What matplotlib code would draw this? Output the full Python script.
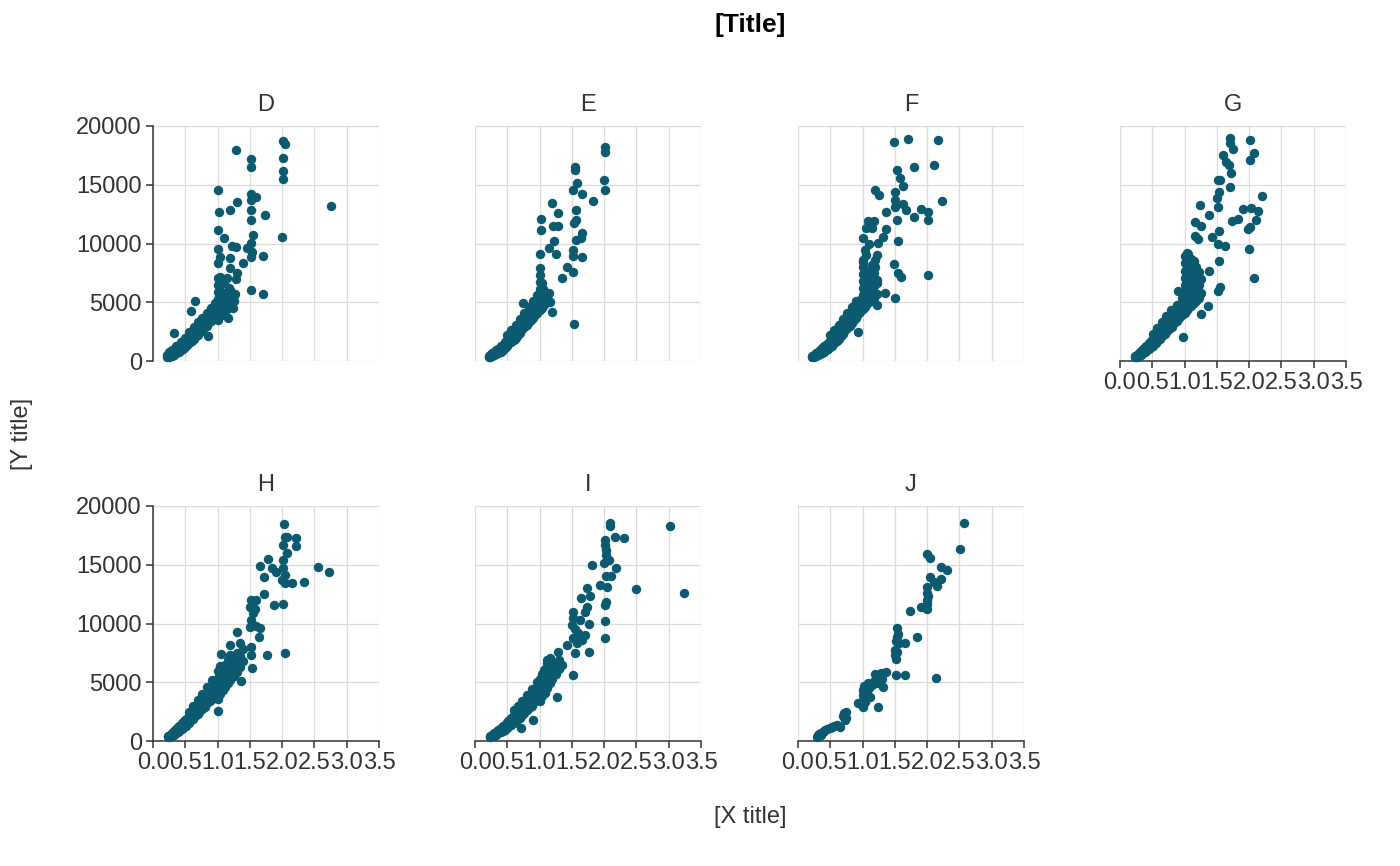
import matplotlib
matplotlib.use("Agg")
import matplotlib.pyplot as plt

plt.rcParams['font.family'] = ['Liberation Sans', 'DejaVu Sans']

title = "[Title]"
x_title = "[X title]"
y_title = "[Y title]"
facets = ["D", "E", "F", "G", "H", "I", "J"]
x_ticks = [0.0, 0.5, 1.0, 1.5, 2.0, 2.5, 3.0, 3.5]
x_tick_labels = ["0.0", "0.5", "1.0", "1.5", "2.0", "2.5", "3.0", "3.5"]
y_ticks = [0, 5000, 10000, 15000, 20000]
y_tick_labels = ["0", "5000", "10000", "15000", "20000"]

# ---- D ----
D_carat = [1.29, 1.52, 1.51, 2.01, 2.05, 2.02, 2.02, 2.02, 2.00, 2.76, 1.00, 1.02, 1.30, 1.19, 1.52, 1.59, 1.51, 1.52, 1.52, 1.73,
           1.01, 1.10, 1.22, 1.29, 1.00, 1.55, 1.52, 1.46, 1.53, 1.52, 1.04, 1.20, 1.71, 1.01, 1.40, 1.20, 1.30, 1.04, 1.15, 1.29,
           1.52, 1.71, 1.20, 1.27, 1.24, 1.16, 0.65, 0.59, 0.85, 0.33,
           0.22, 0.22,
           0.25, 0.25, 0.25,
           0.28, 0.28,
           0.30, 0.30, 0.30,
           0.33, 0.33,
           0.36, 0.36, 0.36,
           0.40, 0.40,
           0.43, 0.43, 0.43,
           0.46, 0.46,
           0.50, 0.50, 0.50,
           0.53, 0.53,
           0.56, 0.56, 0.56,
           0.60, 0.60,
           0.63, 0.63, 0.63,
           0.66, 0.66,
           0.70, 0.70, 0.70,
           0.73, 0.73,
           0.76, 0.76, 0.76,
           0.80, 0.80,
           0.83, 0.83, 0.83,
           0.86, 0.86,
           0.90, 0.90, 0.90,
           0.93, 0.93,
           0.96, 0.96, 0.96,
           1.00, 1.00, 1.00, 1.00, 1.00, 1.00, 1.00,
           1.03, 1.03, 1.03, 1.03,
           1.06, 1.06, 1.06,
           1.10, 1.10, 1.10, 1.10,
           1.14, 1.14,
           1.18, 1.18, 1.18,
           1.22, 1.22,
           1.26]
D_price = [18000, 17160, 16480, 18750, 18440, 17250, 16170, 15460, 10580, 13190, 14580, 12650, 13530, 12850, 14200, 13930, 13700, 12850, 12000, 12400,
           11150, 10500, 9790, 9670, 9530, 10720, 10010, 9590, 9300, 8880, 8880, 8740, 8960, 8310, 8310, 7890, 7520, 7180, 7035, 6950,
           6040, 5670, 6040, 5670, 4480, 3630, 5100, 4250, 2150, 2350,
           350, 500,
           300, 550, 750,
           400, 650,
           450, 700, 950,
           550, 850,
           650, 950, 1250,
           800, 1150,
           900, 1300, 1600,
           1050, 1500,
           1200, 1600, 2000,
           1400, 1900,
           1500, 2000, 2500,
           1700, 2300,
           1900, 2500, 2900,
           2100, 2700,
           2200, 2800, 3300,
           2500, 3100,
           2600, 3200, 3700,
           2900, 3500,
           3000, 3700, 4100,
           3300, 3900,
           3400, 4000, 4500,
           3600, 4300,
           3800, 4500, 4900,
           3500, 4100, 4700, 5300, 5900, 6500, 7100,
           3800, 4500, 5200, 6000,
           4000, 4800, 5500,
           4200, 5000, 5800, 6600,
           4400, 5200,
           4600, 5400, 6200,
           5000, 5600,
           5100]

# ---- E ----
E_carat = [2.01, 2.01, 2.00, 2.01, 1.55, 1.55, 1.58, 1.51, 1.65, 1.82, 1.20, 1.28, 1.02, 1.02, 1.21, 1.29, 1.56, 1.54, 1.57, 1.66,
           1.64, 1.56, 1.22, 1.15, 1.01, 1.25, 1.51, 1.51, 1.66, 1.42, 1.52, 1.34, 1.53, 1.19, 1.16, 0.74,
           0.21, 0.21,
           0.24, 0.24,
           0.27, 0.27,
           0.30, 0.30,
           0.33, 0.33,
           0.36, 0.36,
           0.40, 0.40,
           0.43, 0.43,
           0.46, 0.46,
           0.50, 0.50, 0.50,
           0.53, 0.53,
           0.56, 0.56, 0.56,
           0.60, 0.60,
           0.63, 0.63, 0.63,
           0.66, 0.66,
           0.70, 0.70, 0.70,
           0.73, 0.73,
           0.76, 0.76, 0.76,
           0.80, 0.80,
           0.83, 0.83, 0.83,
           0.86, 0.86,
           0.90, 0.90, 0.90,
           0.93, 0.93,
           0.96, 0.96, 0.96,
           1.00, 1.00, 1.00, 1.00, 1.00, 1.00, 1.00,
           1.03, 1.03, 1.03, 1.03,
           1.06, 1.06, 1.06,
           1.10, 1.10,
           1.14, 1.14]
E_price = [18240, 17820, 15400, 14550, 16540, 16250, 15120, 14550, 14180, 13650, 13420, 12570, 12110, 11150, 11490, 11490, 12850, 11720, 12000, 10870,
           10440, 10300, 10210, 9590, 9110, 9110, 9450, 8960, 8880, 8030, 7550, 7040, 3120, 4200, 5050, 4910,
           300, 450,
           350, 550,
           400, 650,
           500, 750,
           600, 900,
           700, 1050,
           800, 1250,
           950, 1400,
           1100, 1600,
           1250, 1800, 2200,
           1500, 2000,
           1600, 2200, 2600,
           1800, 2500,
           2000, 2700, 3100,
           2200, 2900,
           2400, 3100, 3600,
           2700, 3400,
           2900, 3600, 4100,
           3100, 3900,
           3300, 4100, 4600,
           3500, 4300,
           3700, 4500, 5100,
           3900, 4800,
           4100, 5000, 5600,
           4300, 4900, 5500, 6100, 6700, 7300, 7900,
           4500, 5200, 5900, 6600,
           4700, 5400, 6100,
           4900, 5600,
           5100, 5800]

# ---- F ----
F_carat = [1.49, 1.71, 2.17, 1.53, 1.80, 2.10, 1.58, 1.62, 1.19, 1.25, 1.50, 1.50, 1.63, 2.23, 1.50, 1.68, 1.36, 1.90, 2.01, 1.80,
           2.01, 1.53, 1.09, 1.17, 1.05, 1.14, 1.37, 1.32, 1.55, 1.00, 1.24, 1.04, 1.22, 1.19, 1.01, 1.19, 1.49, 1.55, 1.60, 2.01,
           1.35, 1.50, 1.22, 1.22,
           0.22, 0.22,
           0.25, 0.25,
           0.28, 0.28,
           0.31, 0.31,
           0.34, 0.34,
           0.37, 0.37,
           0.40, 0.40,
           0.43, 0.43,
           0.46, 0.46,
           0.50, 0.50, 0.50,
           0.53, 0.53,
           0.56, 0.56, 0.56,
           0.60, 0.60,
           0.63, 0.63, 0.63,
           0.66, 0.66,
           0.70, 0.70, 0.70,
           0.73, 0.73,
           0.76, 0.76, 0.76,
           0.80, 0.80,
           0.83, 0.83, 0.83,
           0.86, 0.86,
           0.90, 0.90, 0.90,
           0.93, 0.93, 0.93,
           0.96, 0.96,
           1.00, 1.00, 1.00, 1.00, 1.00, 1.00, 1.00, 1.00,
           1.03, 1.03, 1.03, 1.03, 1.03,
           1.06, 1.06, 1.06, 1.06, 1.06,
           1.10, 1.10, 1.10, 1.10, 1.10,
           1.14, 1.14, 1.14, 1.14,
           1.18, 1.18, 1.18,
           1.22, 1.22]
F_price = [18670, 18860, 18810, 16250, 16540, 16680, 15550, 14890, 14550, 14130, 14410, 13700, 13360, 13620, 13130, 12850, 12710, 12910, 12710, 12280,
           12000, 12000, 11920, 11920, 11290, 11290, 11230, 10580, 10240, 10440, 10010, 9450, 9020, 8600, 8450, 8030, 8250, 7460, 7180, 7320,
           5820, 5330, 6670, 4770,
           300, 450,
           350, 550,
           400, 650,
           500, 800,
           600, 950,
           700, 1100,
           800, 1250,
           900, 1400,
           1000, 1550,
           1150, 1700, 2200,
           1300, 1900,
           1500, 2100, 2600,
           1700, 2400,
           1900, 2600, 3100,
           2100, 2900,
           2300, 3100, 3600,
           2600, 3400,
           2800, 3600, 4100,
           3000, 3900,
           3200, 4100, 4600,
           3500, 4400,
           3700, 4600, 5100,
           2500, 4000, 4900,
           4200, 5200,
           4400, 5000, 5600, 6200, 6800, 7400, 8000, 8600,
           4600, 5300, 6000, 6700, 7400,
           4800, 5500, 6300, 7100, 9000,
           5000, 5800, 6600, 7600, 10000,
           5200, 6100, 7000, 8200,
           5400, 6400, 7500,
           5700, 6900]

# ---- G ----
G_carat = [1.71, 1.71, 1.75, 2.01, 2.01, 2.08, 1.60, 1.64, 1.69, 1.72, 1.51, 1.55, 1.70, 1.53, 1.50, 2.20, 1.51, 1.24, 1.38, 1.91,
           2.03, 2.14, 2.11, 1.73, 1.82, 2.01, 1.99, 1.16, 1.25, 1.16, 1.21, 1.53, 1.43, 1.51, 1.63, 2.00, 1.53, 1.38, 1.55, 1.51,
           2.07, 1.36, 1.25, 0.90, 0.79, 0.98,
           0.23, 0.23,
           0.26, 0.26,
           0.29, 0.29,
           0.32, 0.32,
           0.35, 0.35,
           0.38, 0.38,
           0.41, 0.41,
           0.45, 0.45,
           0.48, 0.48,
           0.51, 0.51, 0.51,
           0.55, 0.55,
           0.58, 0.58, 0.58,
           0.62, 0.62,
           0.65, 0.65, 0.65,
           0.69, 0.69,
           0.72, 0.72, 0.72,
           0.76, 0.76,
           0.80, 0.80, 0.80,
           0.84, 0.84,
           0.88, 0.88, 0.88,
           0.92, 0.92,
           0.96, 0.96, 0.96,
           1.00, 1.00, 1.00, 1.00, 1.00, 1.00, 1.00, 1.00, 1.00,
           1.03, 1.03, 1.03, 1.03, 1.03, 1.03, 1.03, 1.03,
           1.06, 1.06, 1.06, 1.06, 1.06, 1.06, 1.06,
           1.10, 1.10, 1.10, 1.10, 1.10, 1.10,
           1.14, 1.14, 1.14, 1.14, 1.14,
           1.18, 1.18, 1.18, 1.18,
           1.22, 1.22, 1.22,
           1.26, 1.26]
G_price = [18950, 18520, 18010, 18810, 17110, 17680, 17530, 16960, 16680, 15970, 15400, 15400, 14840, 14410, 13840, 14040, 13130, 13250, 12400, 12910,
           13050, 12790, 12000, 11940, 12060, 11430, 11200, 11800, 11520, 10640, 10410, 11090, 10520, 9960, 9790, 9500, 8540, 7690, 6330, 5990,
           7090, 4680, 4000, 5960, 4340, 2070,
           300, 450,
           350, 550,
           450, 700,
           550, 850,
           650, 1000,
           750, 1150,
           850, 1300,
           1000, 1500,
           1150, 1700,
           1300, 1900, 2300,
           1500, 2100,
           1700, 2400, 2800,
           1900, 2600,
           2100, 2900, 3300,
           2300, 3100,
           2500, 3300, 3800,
           2700, 3600,
           2900, 3800, 4300,
           3200, 4100,
           3400, 4300, 4800,
           3700, 4600,
           3900, 4900, 5400,
           4100, 4700, 5300, 5900, 6500, 7100, 7700, 8300, 8900,
           4300, 5000, 5700, 6400, 7100, 7800, 8500, 9200,
           4500, 5200, 6000, 6800, 7600, 8400, 9100,
           4700, 5500, 6300, 7100, 7900, 8700,
           4900, 5800, 6700, 7600, 8500,
           5100, 6000, 7000, 8000,
           5400, 6500, 7600,
           5800, 7000]

# ---- H ----
H_carat = [2.03, 2.04, 2.08, 2.21, 2.02, 2.21, 2.08, 2.02, 2.02, 2.05, 2.00, 2.05, 2.15, 2.34, 2.56, 2.72, 1.66, 1.78, 1.85, 1.90,
           1.72, 1.72, 1.87, 2.02, 1.76, 2.04, 1.51, 1.59, 1.50, 1.55, 1.52, 1.60, 1.50, 1.58, 1.66, 1.64, 1.30, 1.20, 1.35, 1.51,
           1.51, 1.53, 1.05, 1.37, 1.01,
           0.23, 0.23,
           0.26, 0.26,
           0.29, 0.29,
           0.32, 0.32,
           0.35, 0.35,
           0.38, 0.38,
           0.41, 0.41,
           0.45, 0.45,
           0.48, 0.48,
           0.51, 0.51,
           0.55, 0.55, 0.55,
           0.58, 0.58,
           0.62, 0.62, 0.62,
           0.65, 0.65,
           0.69, 0.69, 0.69,
           0.72, 0.72,
           0.76, 0.76, 0.76,
           0.80, 0.80,
           0.84, 0.84, 0.84,
           0.88, 0.88,
           0.92, 0.92, 0.92,
           0.96, 0.96,
           1.00, 1.00, 1.00, 1.00, 1.00,
           1.04, 1.04, 1.04, 1.04, 1.04,
           1.08, 1.08, 1.08, 1.08,
           1.12, 1.12, 1.12, 1.12,
           1.16, 1.16, 1.16, 1.16,
           1.20, 1.20, 1.20, 1.20,
           1.25, 1.25, 1.25,
           1.30, 1.30, 1.30,
           1.35, 1.35,
           1.40, 1.40]
H_price = [18470, 17390, 17390, 17300, 16680, 16600, 16030, 15400, 14700, 14130, 13700, 13420, 13420, 13500, 14840, 14410, 14890, 15460, 14700, 14410,
           13990, 12510, 11550, 11660, 7320, 7460, 12000, 12000, 11400, 10900, 10300, 9800, 9700, 11200, 9650, 8880, 9300, 8170, 8310, 8030,
           7320, 6180, 7380, 5110, 2550,
           300, 450,
           350, 550,
           450, 700,
           550, 850,
           650, 1000,
           750, 1150,
           850, 1300,
           1000, 1500,
           1150, 1700,
           1300, 1900,
           1500, 2100, 2500,
           1700, 2300,
           1900, 2600, 3000,
           2100, 2800,
           2300, 3100, 3500,
           2500, 3300,
           2700, 3500, 4000,
           2900, 3800,
           3200, 4000, 4600,
           3400, 4300,
           3600, 4600, 5200,
           3900, 4900,
           3600, 4200, 4800, 5400, 6000,
           4000, 4600, 5200, 5800, 6400,
           4300, 4900, 5500, 6100,
           4600, 5200, 5800, 6500,
           4900, 5500, 6200, 6900,
           5200, 5900, 6600, 7300,
           5500, 6300, 7000,
           5900, 6700, 7500,
           6300, 7200,
           6800, 7800]

# ---- I ----
I_carat = [2.09, 2.09, 3.02, 2.17, 2.31, 2.01, 2.01, 2.03, 2.03, 2.08, 2.00, 2.19, 1.81, 2.03, 2.10, 1.94, 2.04, 2.49, 3.23, 1.74,
           1.78, 1.64, 2.03, 2.02, 1.73, 1.70, 1.51, 1.51, 1.63, 1.77, 2.01, 2.01, 1.50, 1.55, 1.60, 1.52, 1.65, 1.58, 1.70, 1.76,
           1.55, 1.42, 1.29, 1.16, 1.11, 1.51, 1.07, 1.27, 0.90, 0.72,
           0.24, 0.24,
           0.27, 0.27,
           0.30, 0.30,
           0.33, 0.33,
           0.36, 0.36,
           0.40, 0.40,
           0.43, 0.43,
           0.46, 0.46,
           0.50, 0.50,
           0.53, 0.53,
           0.56, 0.56,
           0.60, 0.60, 0.60,
           0.63, 0.63,
           0.66, 0.66, 0.66,
           0.70, 0.70,
           0.73, 0.73, 0.73,
           0.76, 0.76,
           0.80, 0.80, 0.80,
           0.84, 0.84,
           0.88, 0.88, 0.88,
           0.92, 0.92,
           0.96, 0.96, 0.96,
           1.00, 1.00, 1.00, 1.00,
           1.04, 1.04, 1.04, 1.04,
           1.08, 1.08, 1.08, 1.08,
           1.12, 1.12, 1.12, 1.12,
           1.16, 1.16, 1.16,
           1.20, 1.20, 1.20,
           1.25, 1.25,
           1.30, 1.30,
           1.35]
I_price = [18520, 18330, 18300, 17390, 17250, 17110, 16680, 16250, 15830, 15400, 15180, 14750, 14980, 14040, 14040, 13280, 13080, 12910, 12570, 13050,
           12340, 12200, 11860, 11570, 11380, 11000, 11000, 10440, 10300, 9930, 10210, 8790, 9900, 9500, 9200, 8800, 8600, 8300, 9000, 7600,
           7460, 8170, 7550, 7040, 6890, 5620, 6040, 3720, 1790, 1130,
           300, 450,
           400, 550,
           450, 700,
           550, 800,
           650, 950,
           750, 1100,
           850, 1250,
           950, 1400,
           1100, 1600,
           1250, 1800,
           1400, 2000,
           1550, 2200, 2600,
           1700, 2400,
           1850, 2600, 3000,
           2000, 2800,
           2200, 3000, 3400,
           2400, 3200,
           2600, 3400, 3900,
           2800, 3600,
           3000, 3900, 4400,
           3300, 4200,
           3600, 4500, 5000,
           3400, 4000, 4700, 5300,
           3800, 4500, 5100, 5700,
           4100, 4800, 5500, 6100,
           4500, 5200, 5900, 6600,
           4900, 5600, 6300,
           5300, 6000, 6700,
           5700, 6500,
           6100, 6900,
           6500]

# ---- J ----
J_carat = [2.57, 2.51, 2.00, 2.04, 2.22, 2.30, 2.05, 2.22, 2.15, 2.00, 2.00, 2.00, 1.90, 2.00, 1.73, 1.53, 1.53, 1.56, 1.50, 1.50,
           1.84, 1.66, 1.51, 1.65, 2.14, 1.37, 1.19, 1.29, 1.24, 1.31, 1.00, 1.07, 1.00, 0.93, 1.24, 1.12, 0.75, 0.73, 0.65, 0.52,
           0.42, 0.31, 0.29,
           0.33, 0.35, 0.38, 0.40, 0.45, 0.50, 0.55, 0.60, 0.70, 0.72, 0.74, 1.00, 1.01, 1.03, 1.05, 1.10, 1.15, 1.20, 1.22, 1.25,
           1.28, 1.30, 1.52, 1.54, 1.52, 2.00, 2.02, 2.10, 1.55, 0.32, 0.36, 0.71, 1.02, 1.08, 1.18, 1.26]
J_price = [18580, 16310, 15910, 15550, 14780, 14550, 13990, 13760, 13190, 13130, 12570, 12000, 11430, 11200, 11060, 9650, 8880, 8310, 7750, 7320,
           8880, 8310, 5620, 5620, 5390, 5900, 5670, 5480, 4910, 4620, 4340, 4000, 2920, 3260, 2920, 3770, 2500, 1790, 1220, 1160,
           940, 510, 370,
           600, 700, 800, 850, 1000, 1100, 1250, 1400, 2100, 2300, 2000, 3500, 3900, 3300, 4200, 4500, 4800, 5200, 5500, 5100,
           5800, 5300, 7000, 7600, 8500, 11700, 12300, 13500, 9100, 450, 550, 2400, 4700, 4900, 5000, 5600]

carats = [D_carat, E_carat, F_carat, G_carat, H_carat, I_carat, J_carat]
prices = [D_price, E_price, F_price, G_price, H_price, I_price, J_price]

W, H = 1400, 866
fig = plt.figure(figsize=(W / 100, H / 100), dpi=100)

col_left = [153, 475, 798, 1120]
row_top = [126, 506]
pw, ph = 226, 235
point_color = "#0b5a70"
text_color = "#333333"
grid_color = "#dcdcdc"

for i, name in enumerate(facets):
    r, c = divmod(i, 4)
    left = col_left[c]
    top = row_top[r]
    ax = fig.add_axes([left / W, 1 - (top + ph) / H, pw / W, ph / H])
    ax.scatter(carats[i], prices[i], s=46, color=point_color, linewidths=0, zorder=3, clip_on=False)
    ax.set_xlim(0, 3.5)
    ax.set_ylim(0, 20000)
    ax.set_xticks(x_ticks)
    ax.set_yticks(y_ticks)
    ax.grid(True, color=grid_color, linewidth=0.9, zorder=0)
    ax.set_axisbelow(True)
    for s in ax.spines.values():
        s.set_visible(False)
    is_left = (c == 0)
    is_bottom = (r == 1) or (i == 3)
    if is_left:
        ax.spines['left'].set_visible(True)
        ax.spines['left'].set_color(text_color)
        ax.spines['left'].set_linewidth(1.1)
        ax.set_yticklabels(y_tick_labels)
        ax.tick_params(axis='y', length=5, width=1.1, color=text_color, labelsize=17, labelcolor=text_color, pad=3)
    else:
        ax.tick_params(axis='y', length=0, labelleft=False)
    if is_bottom:
        ax.spines['bottom'].set_visible(True)
        ax.spines['bottom'].set_color(text_color)
        ax.spines['bottom'].set_linewidth(1.1)
        ax.set_xticklabels(x_tick_labels)
        ax.tick_params(axis='x', length=5, width=1.1, color=text_color, labelsize=17, labelcolor=text_color, pad=3)
    else:
        ax.tick_params(axis='x', length=0, labelbottom=False)
    ax.set_title(name, fontsize=17, color=text_color, pad=11)

fig.text(750 / W, 1 - 25 / H, title, ha='center', va='center', fontsize=19, fontweight='bold', color='black')
fig.text(750 / W, 1 - 817 / H, x_title, ha='center', va='center', fontsize=17, color=text_color)
fig.text(22 / W, 1 - 434 / H, y_title, ha='center', va='center', rotation=90, fontsize=17, color=text_color)

fig.savefig("out.png", dpi=100, facecolor='white')
